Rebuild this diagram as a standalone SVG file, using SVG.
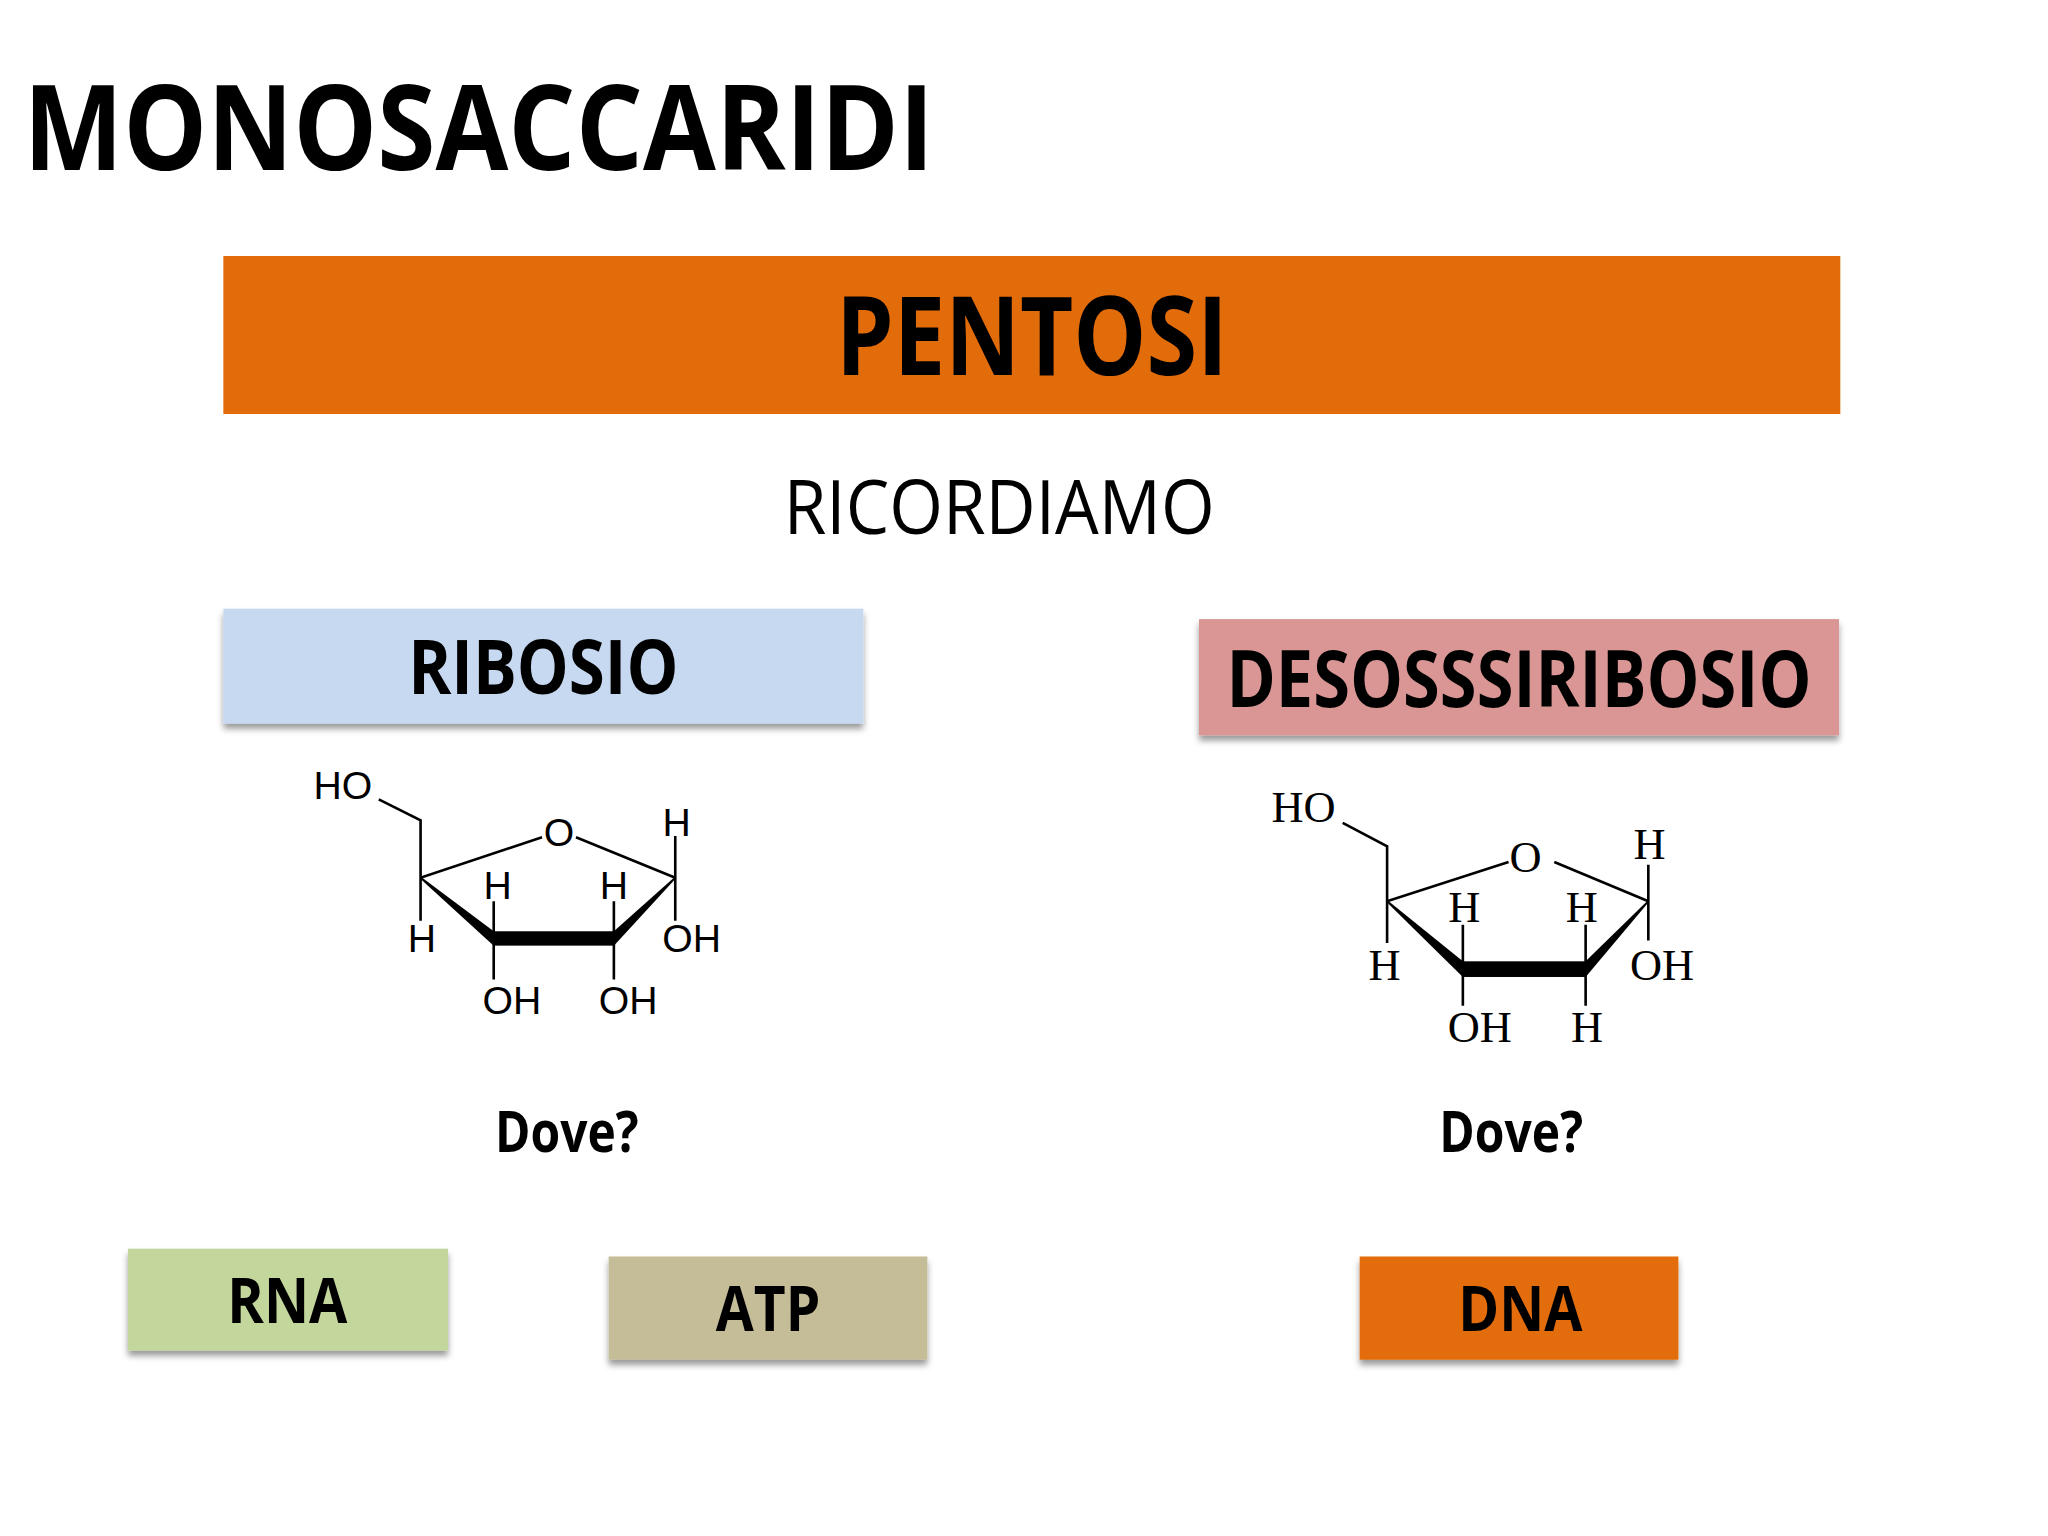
<svg xmlns="http://www.w3.org/2000/svg" width="2048" height="1536" viewBox="0 0 2048 1536">
<defs>
<filter id="sh" x="-5%" y="-10%" width="110%" height="130%"><feDropShadow dx="0" dy="4" stdDeviation="2.5" flood-color="#000" flood-opacity="0.4"/></filter>
<style>
.b{font-family:"Open Sans","Liberation Sans",sans-serif;font-weight:bold;fill:#000}
.r{font-family:"Open Sans","Liberation Sans",sans-serif;fill:#000}
.m{font-family:"Liberation Sans",sans-serif;font-size:30px;fill:#000}
.s{font-family:"Liberation Serif",serif;font-size:34px;fill:#000}
.ln{stroke:#000;stroke-width:2;fill:none}
</style>
</defs>
<rect width="2048" height="1536" fill="#fff"/>
<g transform="scale(1.30612)">
<text class="b" x="18" y="130" font-size="91" textLength="697" lengthAdjust="spacingAndGlyphs">MONOSACCARIDI</text>
<g id="pentosi"><rect x="171" y="196" width="1238" height="121" fill="#E36C0A"/>
<text class="b" x="790" y="287" font-size="84" text-anchor="middle" textLength="300" lengthAdjust="spacingAndGlyphs">PENTOSI</text></g>
<text class="r" x="765" y="409" font-size="58" text-anchor="middle" textLength="330" lengthAdjust="spacingAndGlyphs">RICORDIAMO</text>
<g id="ribosio"><rect x="171" y="466" width="490" height="88" fill="#C6D9F1" filter="url(#sh)"/>
<text class="b" x="416" y="531" font-size="58" text-anchor="middle" textLength="207" lengthAdjust="spacingAndGlyphs">RIBOSIO</text></g>
<g id="deso"><rect x="918" y="474" width="490" height="89" fill="#D99694" filter="url(#sh)"/>
<text class="b" x="1163" y="541" font-size="60" text-anchor="middle" textLength="448" lengthAdjust="spacingAndGlyphs">DESOSSSIRIBOSIO</text></g>
<g id="ribose-mol">
<text class="m" x="240" y="612">HO</text>
<path class="ln" d="M290,612 L322,628 L322,672 L415,641 M441,641 L517,672 L517,640 M322,672 L322,705 M517,672 L517,705 M378,718 L378,690 M470,718 L470,690 M378,718 L378,750 M470,718 L470,750"/>
<polygon points="322,671 378,713 378,724 322,673" fill="#000"/>
<polygon points="517,671 470,713 470,724 517,673" fill="#000"/>
<rect x="378" y="713" width="92" height="11" fill="#000"/>
<text class="m" x="428" y="648" text-anchor="middle">O</text>
<text class="m" x="381" y="688" text-anchor="middle">H</text>
<text class="m" x="470" y="688" text-anchor="middle">H</text>
<text class="m" x="323" y="729" text-anchor="middle">H</text>
<text class="m" x="518" y="640" text-anchor="middle">H</text>
<text class="m" x="507" y="729">OH</text>
<text class="m" x="392" y="776" text-anchor="middle">OH</text>
<text class="m" x="481" y="776" text-anchor="middle">OH</text>
</g>
<g id="deoxy-mol">
<text class="s" x="998" y="629" text-anchor="middle">HO</text>
<path class="ln" d="M1028,630 L1062,648 L1062,690 L1155,660 M1190,660 L1262,690 L1262,662 M1062,690 L1062,722 M1262,690 L1262,720 M1120,742 L1120,708 M1214,742 L1214,708 M1120,742 L1120,770 M1214,742 L1214,770"/>
<polygon points="1062,689 1120,736 1120,748 1062,691" fill="#000"/>
<polygon points="1262,689 1214,736 1214,748 1262,691" fill="#000"/>
<rect x="1120" y="736" width="94" height="12" fill="#000"/>
<text class="s" x="1168" y="668" text-anchor="middle">O</text>
<text class="s" x="1121" y="706" text-anchor="middle">H</text>
<text class="s" x="1211" y="706" text-anchor="middle">H</text>
<text class="s" x="1060" y="750" text-anchor="middle">H</text>
<text class="s" x="1263" y="658" text-anchor="middle">H</text>
<text class="s" x="1248" y="750">OH</text>
<text class="s" x="1133" y="798" text-anchor="middle">OH</text>
<text class="s" x="1215" y="798" text-anchor="middle">H</text>
</g>
<text class="b" x="434" y="882" font-size="44" text-anchor="middle" textLength="110" lengthAdjust="spacingAndGlyphs">Dove?</text>
<text class="b" x="1157" y="882" font-size="44" text-anchor="middle" textLength="110" lengthAdjust="spacingAndGlyphs">Dove?</text>
<g id="rna"><rect x="98" y="956" width="245" height="78" fill="#C3D69B" filter="url(#sh)"/>
<text class="b" x="220" y="1013" font-size="48" text-anchor="middle" textLength="92" lengthAdjust="spacingAndGlyphs">RNA</text></g>
<g id="atp"><rect x="466" y="962" width="244" height="79" fill="#C4BD97" filter="url(#sh)"/>
<text class="b" x="588" y="1019" font-size="48" text-anchor="middle" textLength="80" lengthAdjust="spacingAndGlyphs">ATP</text></g>
<g id="dna"><rect x="1041" y="962" width="244" height="79" fill="#E36C0A" filter="url(#sh)"/>
<text class="b" x="1164" y="1019" font-size="48" text-anchor="middle" textLength="95" lengthAdjust="spacingAndGlyphs">DNA</text></g>
</g>
<g id="connectors"/>
</svg>
